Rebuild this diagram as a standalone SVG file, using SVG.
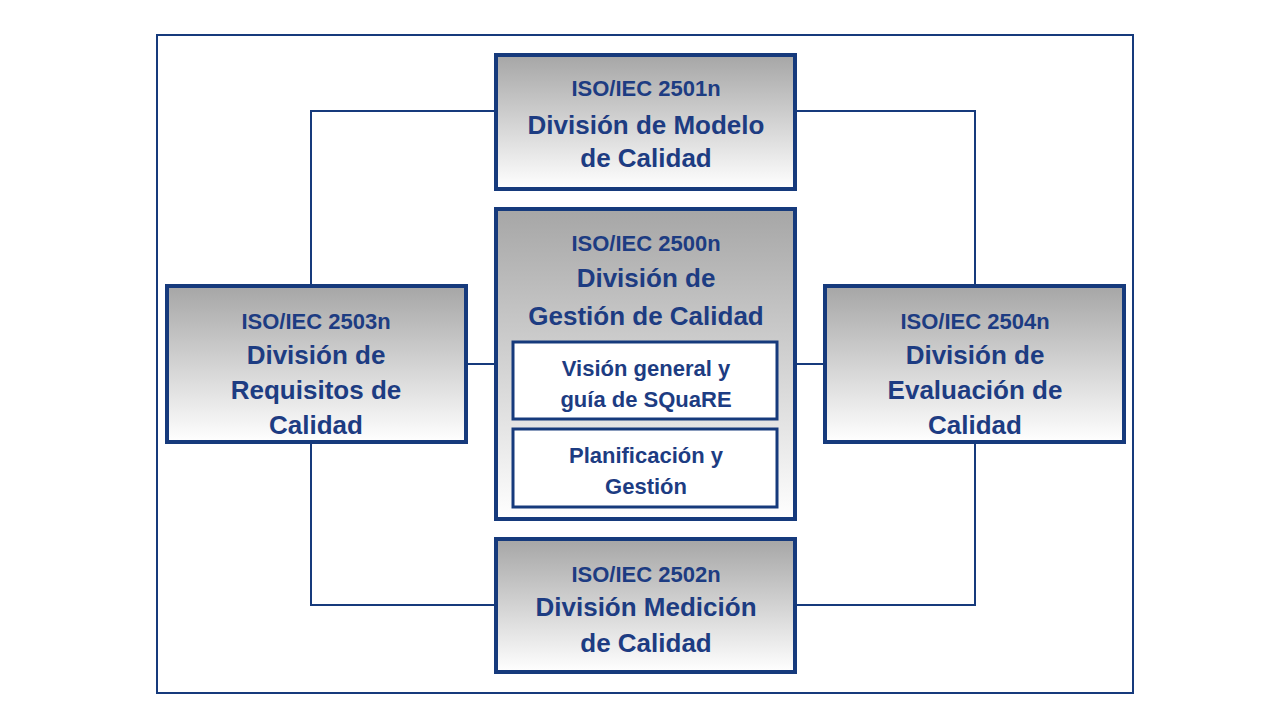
<svg xmlns="http://www.w3.org/2000/svg" width="1280" height="720" viewBox="0 0 1280 720">
<defs>
<linearGradient id="g" x1="0" y1="0" x2="0" y2="1"><stop offset="0" stop-color="#a6a6a6"/><stop offset="1" stop-color="#ffffff"/></linearGradient>
<style>
.box{fill:url(#g);stroke:#163a7c;stroke-width:4}
.in{fill:#fff;stroke:#163a7c;stroke-width:3}
.c{fill:none;stroke:#163a7c;stroke-width:2}
text{font-family:"Liberation Sans",Arial,sans-serif;font-weight:bold;fill:#1d3c82;text-anchor:middle}
.s{font-size:22px}.l{font-size:26px}.m{font-size:22px}
</style>
</defs>
<rect width="1280" height="720" fill="#fff"/>
<rect x="157" y="35" width="976" height="658" fill="none" stroke="#163a7c" stroke-width="2"/>
<g id="connectors">
<path class="c" d="M496 111H311V286M795 111H975V286M311 442V605H496M975 442V605H795M466 364H496M795 364H825"/>
</g>
<g id="n2501"><rect class="box" x="496" y="55" width="299" height="134"/>
<text class="s" x="646" y="96">ISO/IEC 2501n</text><text class="l" x="646" y="134">División de Modelo</text><text class="l" x="646" y="167">de Calidad</text></g>
<g id="n2500"><rect class="box" x="496" y="209" width="299" height="310"/>
<text class="s" x="646" y="251">ISO/IEC 2500n</text><text class="l" x="646" y="287">División de</text><text class="l" x="646" y="325">Gestión de Calidad</text></g>
<g id="vision"><rect class="in" x="513" y="342" width="264" height="77"/>
<text class="m" x="646" y="376">Visión general y</text><text class="m" x="646" y="407">guía de SQuaRE</text></g>
<g id="plan"><rect class="in" x="513" y="429" width="264" height="78"/>
<text class="m" x="646" y="463">Planificación y</text><text class="m" x="646" y="494">Gestión</text></g>
<g id="n2503"><rect class="box" x="167" y="286" width="299" height="156"/>
<text class="s" x="316" y="329">ISO/IEC 2503n</text><text class="l" x="316" y="364">División de</text><text class="l" x="316" y="399">Requisitos de</text><text class="l" x="316" y="434">Calidad</text></g>
<g id="n2504"><rect class="box" x="825" y="286" width="299" height="156"/>
<text class="s" x="975" y="329">ISO/IEC 2504n</text><text class="l" x="975" y="364">División de</text><text class="l" x="975" y="399">Evaluación de</text><text class="l" x="975" y="434">Calidad</text></g>
<g id="n2502"><rect class="box" x="496" y="539" width="299" height="133"/>
<text class="s" x="646" y="582">ISO/IEC 2502n</text><text class="l" x="646" y="616">División Medición</text><text class="l" x="646" y="652">de Calidad</text></g>
</svg>
